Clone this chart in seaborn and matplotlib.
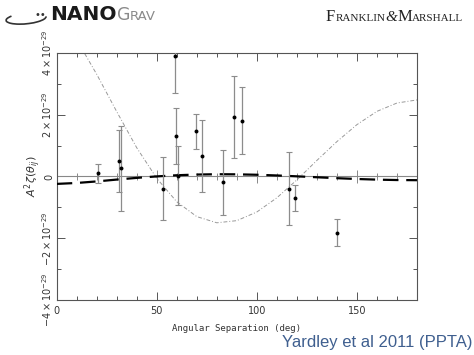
import matplotlib
matplotlib.use("Agg")
import matplotlib.pyplot as plt
from matplotlib.ticker import MultipleLocator, FuncFormatter
from matplotlib.patches import Arc
from matplotlib import font_manager
import seaborn as sns
import pandas as pd

# pulsar pair angular separations (deg) and correlations (units of 1e-29)
sep = [20.8, 31.0, 32.2, 53.0, 59.3, 59.5, 60.5, 69.5, 72.5, 83.0, 88.5, 92.8, 116.3, 119.3, 140.0]
corr = [0.10, 0.49, 0.26, -0.40, 3.91, 1.31, 0.03, 1.47, 0.66, -0.19, 1.93, 1.81, -0.40, -0.70, -1.82]
err = [0.32, 1.00, 1.37, 1.02, 1.20, 0.90, 0.95, 0.57, 1.17, 1.05, 1.32, 1.08, 1.18, 0.41, 0.44]

# dash-dot curve
hd_ang = [14, 20, 30, 40, 50, 60, 70, 80, 90, 100, 110, 120, 130, 140, 150, 160, 170, 180]
hd_big = [3.98, 3.31, 2.10, 0.93, -0.06, -0.82, -1.30, -1.50, -1.43, -1.15, -0.69, -0.11,
          0.52, 1.13, 1.68, 2.11, 2.38, 2.48]
# thick dashed fit
fit_ang = [0, 10, 20, 30, 40, 50, 60, 70, 80, 90, 100, 110, 120, 130, 140, 150, 160, 170, 180]
fit_val = [-0.24, -0.21, -0.16, -0.10, -0.045, 0.003, 0.04, 0.063, 0.073, 0.07, 0.056, 0.033,
           0.005, -0.025, -0.055, -0.081, -0.102, -0.115, -0.12]

sns.set_style("ticks")
fig = plt.figure(figsize=(4.74, 3.55), dpi=100)
ax = fig.add_axes([0.1196, 0.155, 0.7601, 0.6957])

ax.axhline(0, color="#888888", lw=0.8, zorder=1)
sns.lineplot(x=hd_ang, y=hd_big, ax=ax, color="#999999", lw=0.7, linestyle=(0, (4, 2, 1, 2)), zorder=2)
sns.lineplot(x=fit_ang, y=fit_val, ax=ax, color="black", lw=1.6, linestyle=(0, (7, 3.5)), zorder=3)
ax.errorbar(sep, corr, yerr=err, fmt="none", ecolor="#8c8c8c", elinewidth=0.9, capsize=2.2,
            capthick=0.8, zorder=4)
df = pd.DataFrame({"sep": sep, "corr": corr})
sns.scatterplot(data=df, x="sep", y="corr", ax=ax, color="black", marker="o", s=8,
                edgecolor="black", linewidth=0, zorder=5)

ax.set_xlim(0, 180)
ax.set_ylim(-4, 4)
ax.xaxis.set_major_locator(MultipleLocator(50))
ax.xaxis.set_minor_locator(MultipleLocator(10))
ax.yaxis.set_major_locator(MultipleLocator(2))
ax.yaxis.set_minor_locator(MultipleLocator(1))

# small ticks crossing the zero line
minor_x = [t for t in ax.xaxis.get_minorticklocs() if 0 < t < 180]
ax.vlines(minor_x, -0.1, 0.1, color="#888888", lw=0.7, zorder=1)
ax.vlines([50, 100, 150], -0.2, 0.2, color="#888888", lw=0.7, zorder=1)


def ylab(v, pos):
    if v == 0:
        return "0"
    sign = "-" if v < 0 else ""
    return r"$%s%d\times10^{-29}$" % (sign, abs(v))


ax.yaxis.set_major_formatter(FuncFormatter(ylab))
for lab in ax.get_yticklabels():
    lab.set_rotation(90)
    lab.set_va("center")
ax.tick_params(which="both", direction="in", top=True, right=True, colors="#555555",
               labelcolor="#333333", labelsize=7, width=0.7)
ax.tick_params(which="major", length=6)
ax.tick_params(which="minor", length=3)
ax.tick_params(axis="x", pad=4)
ax.tick_params(axis="y", pad=2)
for s in ax.spines.values():
    s.set_color("#555555")
    s.set_linewidth(0.8)

ax.set_xlabel("Angular Separation (deg)", family="DejaVu Sans Mono", fontsize=6.5,
              color="#333333", labelpad=6)
ax.set_ylabel(r"$A^2\zeta(\theta_{ij})$", fontsize=8, color="#333333", labelpad=-2)

renderer = fig.canvas.get_renderer()


def put_row(x0, y0, pieces):
    # place text pieces one after another from x0 (figure px)
    x = x0
    for txt, size, kw in pieces:
        t = fig.text(x / 474, y0 / 355, txt, fontsize=size, va="baseline", **kw)
        x += t.get_window_extent(renderer).width
    return x


# header logos
nano = dict(family="DejaVu Sans", fontweight="bold", color="#1a1a1a")
grav = dict(family="DejaVu Sans", color="#8a8a8a")
put_row(50, 335, [("NANO", 14.5, nano), ("G", 12.5, grav), ("RAV", 9.5, grav)])
fig.patches.append(Arc((0.055, 0.948), 0.085, 0.03, angle=8, theta1=160, theta2=360,
                       transform=fig.transFigure, color="#333333", lw=1.2))
fig.text(0.072, 0.957, "\u2022\u2022", fontsize=7, color="#333333", va="center")

serif = dict(family="Liberation Serif", color="#222222")
put_row(326, 334, [("F", 12, serif), ("RANKLIN", 8, serif), ("&", 11, dict(serif, style="italic")),
                   ("M", 12, serif), ("ARSHALL", 8, serif)])

names = {f.name for f in font_manager.fontManager.ttflist}
narrow = "Liberation Sans Narrow" if "Liberation Sans Narrow" in names else "Liberation Sans"
fsize = 14.5 if narrow != "Liberation Sans" else 12
fig.text(0.997, 1 - 346.5 / 355, "Yardley et al 2011 (PPTA)", fontsize=fsize, color="#3f5f8f",
         family=narrow, ha="right", va="baseline")

fig.savefig("out.png", dpi=100)
